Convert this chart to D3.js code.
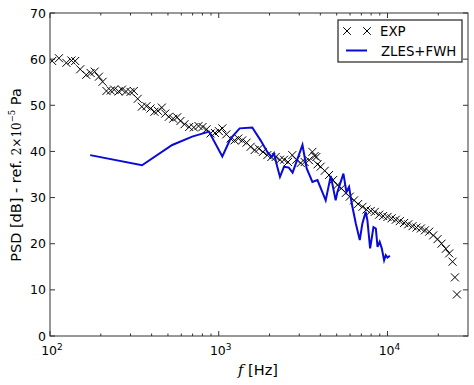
<!DOCTYPE html>
<html>
<head>
<meta charset="utf-8">
<script src="https://cdn.jsdelivr.net/npm/d3@7"></script>
<style>
  body { margin: 0; background: #fff; }
  text { font-family: "DejaVu Sans", sans-serif; fill: #000; }
</style>
</head>
<body>
<div id="chart"></div>
<script>
// EXP measurements (f in Hz, PSD in dB)
var expFreq = [103, 113, 125, 134, 141, 151, 164, 174, 184, 195, 205, 216, 229, 240, 255, 267, 282, 300, 314, 331,
  350, 373, 394, 416, 436, 460, 482, 506, 537, 567, 593, 627, 668, 712, 759, 802, 847, 894, 949, 1002,
  1050, 1109, 1175, 1241, 1306, 1378, 1462, 1545, 1632, 1730, 1827, 1940, 2050, 2175, 2306, 2438, 2572, 2728, 2884, 3060,
  3230, 3425, 3588, 3700, 3791, 3850, 4018, 4246, 4507, 4762, 5050, 5334, 5660, 5975, 6340, 6700, 7110, 7505, 7960, 8410,
  8930, 9420, 10000, 10570, 11200, 11830, 12550, 13270, 14070, 14860, 15770, 16660, 17660, 18660, 19800, 20900, 22170, 23220, 24300, 25100, 25800];
var expPsd = [59.6, 60.2, 59.2, 59.7, 59.6, 57.8, 56.6, 57.0, 57.3, 56.2, 55.1, 53.1, 53.2, 53.4, 53.0, 53.4, 53.0, 52.9, 53.1, 51.4,
  49.7, 49.8, 49.3, 48.6, 48.8, 49.5, 48.2, 47.5, 47.1, 47.4, 46.6, 45.9, 45.3, 45.2, 45.5, 45.3, 44.8, 43.9, 44.0, 44.4,
  45.0, 43.7, 42.8, 42.4, 42.8, 42.4, 41.9, 41.0, 40.3, 40.6, 39.9, 39.2, 38.8, 38.8, 38.2, 38.2, 37.7, 39.2, 38.2, 37.5,
  37.7, 38.1, 39.9, 39.0, 38.8, 37.2, 36.7, 35.8, 34.9, 33.8, 32.7, 32.0, 31.0, 30.2, 29.4, 28.6, 28.0, 27.4, 27.1, 26.9,
  26.3, 26.0, 25.8, 25.5, 25.2, 24.9, 24.5, 24.2, 23.8, 23.5, 23.3, 22.9, 22.6, 21.8, 21.0, 20.0, 18.9, 17.9, 16.1, 12.7, 9.0];

// ZLES+FWH prediction
var lesFreq = [173, 351, 530, 696, 875, 1050, 1175, 1330, 1580, 1770, 1940, 2060, 2124, 2222, 2306, 2438, 2600, 2740, 3135, 3320,
  3590, 3846, 4303, 4611, 4930, 5050, 5480, 5710, 5920, 6140, 6490, 6850, 7100, 7430, 7600, 7890, 8260, 8530, 8730, 8990,
  9250, 9550, 9770, 10000, 10330];
var lesPsd = [39.2, 37.0, 41.4, 43.2, 44.3, 38.9, 42.8, 45.0, 45.2, 42.4, 39.9, 38.8, 39.6, 36.7, 34.5, 36.7, 36.5, 35.4, 41.4, 36.3,
  33.4, 33.8, 29.4, 34.7, 29.4, 31.2, 35.2, 31.2, 32.3, 28.7, 24.4, 20.8, 24.4, 26.9, 25.1, 19.0, 23.6, 23.3, 19.3, 20.4,
  19.0, 16.4, 17.5, 17.0, 17.4];

var yTicks = [0, 10, 20, 30, 40, 50, 60, 70];
var xDecades = [100, 1000, 10000];
var xExponents = ["2", "3", "4"];

var width = 474, height = 385;
var plotL = 50, plotR = 468, plotT = 13, plotB = 336;

var svg = d3.select("#chart").append("svg")
    .attr("width", width)
    .attr("height", height);

var x = d3.scaleLog().domain([100, 30000]).range([plotL, plotR]);
var y = d3.scaleLinear().domain([0, 70]).range([plotB, plotT]);

// minor ticks 2..9 in each decade
var minor = [];
xDecades.forEach(function(d) {
  for (var k = 2; k <= 9; k++) {
    if (d * k < 30000) minor.push(d * k);
  }
});

var ticks = svg.append("g").attr("stroke", "#333").attr("stroke-width", 1);
minor.forEach(function(f) {
  ticks.append("line").attr("x1", x(f)).attr("x2", x(f)).attr("y1", plotB).attr("y2", plotB - 2.5);
  ticks.append("line").attr("x1", x(f)).attr("x2", x(f)).attr("y1", plotT).attr("y2", plotT + 2.5);
});
xDecades.forEach(function(f) {
  ticks.append("line").attr("x1", x(f)).attr("x2", x(f)).attr("y1", plotB).attr("y2", plotB - 5);
  ticks.append("line").attr("x1", x(f)).attr("x2", x(f)).attr("y1", plotT).attr("y2", plotT + 5);
});
yTicks.forEach(function(v) {
  ticks.append("line").attr("x1", plotL).attr("x2", plotL + 5).attr("y1", y(v)).attr("y2", y(v));
  ticks.append("line").attr("x1", plotR).attr("x2", plotR - 5).attr("y1", y(v)).attr("y2", y(v));
});

// tick labels
yTicks.forEach(function(v) {
  svg.append("text")
    .attr("x", plotL - 4)
    .attr("y", y(v) + 4.5)
    .attr("text-anchor", "end")
    .attr("font-size", 12.5)
    .text(v);
});
xDecades.forEach(function(f, i) {
  var t = svg.append("text")
    .attr("x", x(f) + 2)
    .attr("y", plotB + 19)
    .attr("text-anchor", "middle")
    .attr("font-size", 12.5);
  t.append("tspan").text("10");
  t.append("tspan").attr("dy", -5).attr("font-size", 9).text(xExponents[i]);
});

// EXP markers
svg.append("clipPath").attr("id", "clip")
  .append("rect").attr("x", plotL).attr("y", plotT).attr("width", plotR - plotL).attr("height", plotB - plotT);

var s = 4;
svg.append("g").attr("clip-path", "url(#clip)")
  .selectAll("path.exp")
  .data(expFreq)
  .enter().append("path")
  .attr("class", "exp")
  .attr("d", function(f, i) {
    var cx = x(f), cy = y(expPsd[i]);
    return "M" + (cx - s) + "," + (cy - s) + "L" + (cx + s) + "," + (cy + s) +
           "M" + (cx - s) + "," + (cy + s) + "L" + (cx + s) + "," + (cy - s);
  })
  .attr("stroke", "#000")
  .attr("stroke-width", 1)
  .attr("fill", "none");

// ZLES+FWH line
var line = d3.line()
  .x(function(d) { return x(d); })
  .y(function(d, i) { return y(lesPsd[i]); });

svg.append("path")
  .attr("d", line(lesFreq))
  .attr("stroke", "#0a0ad8")
  .attr("stroke-width", 2)
  .attr("fill", "none");

// frame
svg.append("rect")
  .attr("x", plotL).attr("y", plotT)
  .attr("width", plotR - plotL).attr("height", plotB - plotT)
  .attr("fill", "none")
  .attr("stroke", "#333")
  .attr("stroke-width", 1);

// axis labels
var xl = svg.append("text")
  .attr("x", 258)
  .attr("y", 375)
  .attr("text-anchor", "middle")
  .attr("font-size", 14.5);
xl.append("tspan").attr("font-family", "DejaVu Serif").attr("font-style", "italic").text("f");
xl.append("tspan").text(" [Hz]");

var yl = svg.append("text")
  .attr("transform", "translate(21,175) rotate(-90)")
  .attr("text-anchor", "middle")
  .attr("font-size", 14.5);
yl.append("tspan").text("PSD [dB] - ref. ");
yl.append("tspan").attr("font-family", "DejaVu Serif").attr("font-size", 12).text("2\u00d710");
yl.append("tspan").attr("font-family", "DejaVu Serif").attr("font-size", 8.5).attr("dy", -6).text("\u22125");
yl.append("tspan").attr("dy", 6).text(" Pa");

// legend
var lg = svg.append("g");
lg.append("rect")
  .attr("x", 338).attr("y", 20)
  .attr("width", 124).attr("height", 42)
  .attr("fill", "#fff")
  .attr("stroke", "#333")
  .attr("stroke-width", 1.3);
[347, 367].forEach(function(cx) {
  var cy = 31, r = 3.8;
  lg.append("path")
    .attr("d", "M" + (cx - r) + "," + (cy - r) + "L" + (cx + r) + "," + (cy + r) +
               "M" + (cx - r) + "," + (cy + r) + "L" + (cx + r) + "," + (cy - r))
    .attr("stroke", "#000").attr("stroke-width", 1);
});
lg.append("text").attr("x", 380).attr("y", 35.5).attr("font-size", 13.3).text("EXP");
lg.append("line")
  .attr("x1", 346).attr("x2", 367).attr("y1", 50.5).attr("y2", 50.5)
  .attr("stroke", "#0a0ad8").attr("stroke-width", 2);
lg.append("text").attr("x", 381).attr("y", 55.5).attr("font-size", 13.3).text("ZLES+FWH");
</script>
</body>
</html>
